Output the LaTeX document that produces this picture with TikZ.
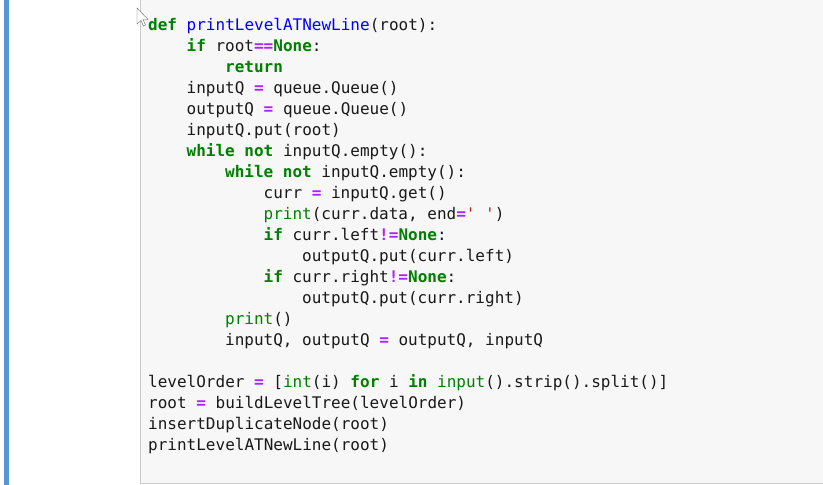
\documentclass[tikz,border=0pt]{standalone}
\usepackage{fontspec}
\newfontfamily\code{DejaVu Sans Mono}
\definecolor{kwc}{HTML}{008000}
\definecolor{fnc}{HTML}{0000FF}
\definecolor{opc}{HTML}{AA22FF}
\definecolor{stc}{HTML}{BA2121}
\newcommand\kw[1]{\textcolor{kwc}{\bfseries #1}}
\newcommand\fnn[1]{\textcolor{fnc}{#1}}
\newcommand\op[1]{\textcolor{opc}{\bfseries #1}}
\newcommand\st[1]{\textcolor{stc}{#1}}
\newcommand\bi[1]{\textcolor{kwc}{#1}}
\begin{document}
\begin{tikzpicture}[x=1pt,y=1pt,
  ln/.style={anchor=base west,inner sep=0pt,font=\code\fontsize{16}{16}\selectfont,text=black!90}]
\useasboundingbox (0,0) rectangle (823,-485);
\fill[white] (0,0) rectangle (823,-485);
\fill[cyan!60!blue!70] (4,0) rectangle (9,-485);
\filldraw[fill=black!3,draw=black!20] (140.5,1) rectangle (830,-483);
\draw[black!60,fill=white] (137,-8) -- (137,-24) -- (141,-20.5) -- (143.5,-26) -- (145.5,-25) -- (143,-19.5) -- (148,-19.5) -- cycle;
\def\cw{9.62}
\newcommand\cl[3]{\node[ln] (l#1) at (148+#2*\cw,-30-21*#1+21) {#3};}
\cl{1}{0}{\kw{def} \fnn{printLevelATNewLine}(root):}
\cl{2}{4}{\kw{if} root\op{==}\kw{None}:}
\cl{3}{8}{\kw{return}}
\cl{4}{4}{inputQ \op{=} queue.Queue()}
\cl{5}{4}{outputQ \op{=} queue.Queue()}
\cl{6}{4}{inputQ.put(root)}
\cl{7}{4}{\kw{while} \kw{not} inputQ.empty():}
\cl{8}{8}{\kw{while} \kw{not} inputQ.empty():}
\cl{9}{12}{curr \op{=} inputQ.get()}
\cl{10}{12}{\bi{print}(curr.data, end\op{=}\st{' '})}
\cl{11}{12}{\kw{if} curr.left\op{!=}\kw{None}:}
\cl{12}{16}{outputQ.put(curr.left)}
\cl{13}{12}{\kw{if} curr.right\op{!=}\kw{None}:}
\cl{14}{16}{outputQ.put(curr.right)}
\cl{15}{8}{\bi{print}()}
\cl{16}{8}{inputQ, outputQ \op{=} outputQ, inputQ}
\cl{18}{0}{levelOrder \op{=} [\bi{int}(i) \kw{for} i \kw{in} \bi{input}().strip().split()]}
\cl{19}{0}{root \op{=} buildLevelTree(levelOrder)}
\cl{20}{0}{insertDuplicateNode(root)}
\cl{21}{0}{printLevelATNewLine(root)}
\end{tikzpicture}
\end{document}
